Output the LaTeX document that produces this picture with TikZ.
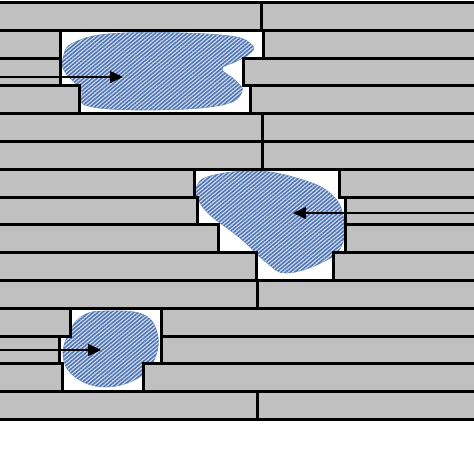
\documentclass[tikz,border=0pt]{standalone}
\usepackage{tikz}
\usetikzlibrary{arrows.meta,patterns.meta}
\definecolor{bargray}{RGB}{192,192,192}
\definecolor{stripeblue}{RGB}{78,112,172}
\definecolor{paleblue}{RGB}{205,222,245}
\definecolor{rimblue}{RGB}{140,170,210}
\tikzstyle{bar} = [fill=bargray, draw=black, line width=3pt]
\tikzstyle{blob} = [draw=rimblue, line width=0.6pt, fill=paleblue, postaction={pattern={Lines[angle=40,distance=2.9pt,line width=1.5pt]}, pattern color=stripeblue}]
\tikzstyle{arrow} = [line width=1.6pt, -{Triangle[length=13pt,width=12pt]}]
\begin{document}
\begin{tikzpicture}[x=1pt,y=-1pt]
\useasboundingbox (0,0) rectangle (474,474);
\clip (0,0) rectangle (474,474);
% inclusions
\draw[blob] plot[smooth cycle, tension=0.7] coordinates {(63,58) (75,42) (122,33) (222,35) (252,45) (248,55) (235,62) (222,69) (235,80) (242,92) (222,105) (155,110) (88,106) (81,90) (65,72)};
\draw[blob] plot[smooth cycle, tension=0.7] coordinates {(196,188) (210,176) (257,171) (300,179) (330,193) (343,215) (342,245) (323,262) (287,273) (267,263) (240,238) (210,215) (198,199)};
\draw[blob] plot[smooth cycle, tension=0.7] coordinates {(105,311) (142,314) (157,332) (155,358) (138,378) (105,387) (75,377) (63,355) (71,329) (84,315)};
% rows of bars
\draw[bar] (-10,2) rectangle (261,30);   \draw[bar] (261,2) rectangle (484,30);
\draw[bar] (-10,30) rectangle (60,58);   \draw[bar] (263,30) rectangle (484,58);
\draw[bar] (-10,58) rectangle (60,85);   \draw[bar] (243,58) rectangle (484,85);
\draw[bar] (-10,85) rectangle (79,113);  \draw[bar] (250,85) rectangle (484,113);
\draw[bar] (-10,113) rectangle (262,141); \draw[bar] (262,113) rectangle (484,141);
\draw[bar] (-10,141) rectangle (262,169); \draw[bar] (262,141) rectangle (484,169);
\draw[bar] (-10,169) rectangle (194,197); \draw[bar] (339,169) rectangle (484,197);
\draw[bar] (-10,197) rectangle (197,224); \draw[bar] (345,197) rectangle (484,224);
\draw[bar] (-10,224) rectangle (218,252); \draw[bar] (345,224) rectangle (484,252);
\draw[bar] (-10,252) rectangle (256,280); \draw[bar] (333,252) rectangle (484,280);
\draw[bar] (-10,280) rectangle (257,308); \draw[bar] (257,280) rectangle (484,308);
\draw[bar] (-10,308) rectangle (70,336);  \draw[bar] (161,308) rectangle (484,336);
\draw[bar] (-10,336) rectangle (59,363);  \draw[bar] (161,336) rectangle (484,363);
\draw[bar] (-10,363) rectangle (62,391);  \draw[bar] (143,363) rectangle (484,391);
\draw[bar] (-10,391) rectangle (257,419); \draw[bar] (257,391) rectangle (484,419);
% arrows
\coordinate (in1) at (-5,77);
\coordinate (tip1) at (123,77);
\coordinate (in2) at (484,213);
\coordinate (tip2) at (293,213);
\coordinate (in3) at (-5,350);
\coordinate (tip3) at (101,350);
\draw[arrow] (in1)--(tip1);
\draw[arrow] (in2)--(tip2);
\draw[arrow] (in3)--(tip3);
\end{tikzpicture}
\end{document}
